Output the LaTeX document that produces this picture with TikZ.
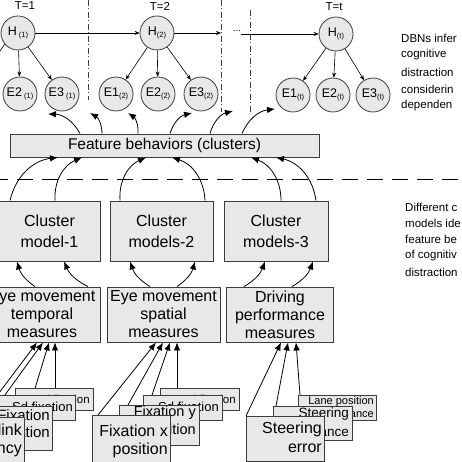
\documentclass[tikz,border=0pt]{standalone}
\usepackage{fontspec}
\setmainfont{Liberation Sans}
\usetikzlibrary{arrows.meta,calc}
\definecolor{boxfill}{RGB}{232,232,232}
\definecolor{boxline}{RGB}{60,60,60}
\newcommand\subx[1]{\raisebox{-2.5pt}{\fontsize{7.5}{8}\selectfont #1}}
\begin{document}
\begin{tikzpicture}[x=1pt,y=-1pt,
  circ/.style={circle,draw=boxline,fill=boxfill,line width=0.8pt,minimum size=34pt,inner sep=0pt,font=\fontsize{12.5}{13}\selectfont},
  bigbox/.style={rectangle,draw=boxline,fill=boxfill,line width=0.9pt,inner sep=0pt,align=center,font=\fontsize{16}{21}\selectfont},
  measbox/.style={bigbox,font=\fontsize{16}{18}\selectfont},
  card/.style={rectangle,draw=boxline,fill=boxfill,line width=0.9pt,inner sep=0pt,anchor=north west},
  cardtext/.style={anchor=east,align=right,inner sep=0pt},
  thinarr/.style={-{Stealth[length=5pt,width=4pt]},line width=0.6pt},
  fat/.style={-{Latex[length=8pt,width=6.5pt]},line width=0.8pt},
  tlabel/.style={font=\fontsize{11.5}{12}\selectfont},
  side/.style={anchor=west,inner sep=0pt,font=\fontsize{11.5}{12}\selectfont},
  vsep/.style={line width=0.7pt,draw=black!75,dash pattern=on 6pt off 2.5pt on 1pt off 2.5pt},
]
\useasboundingbox (0,0) rectangle (462,462);
\clip (0,0) rectangle (462,462);

% ---------- DBN layer ----------
\node[tlabel] (t1) at (25,6) {T=1};
\node[tlabel] (t2) at (160,6) {T=2};
\node[tlabel] (tt) at (334,7) {T=t};

\coordinate (va1) at (88,0);   \coordinate (va2) at (88,100);
\coordinate (vb1) at (221,0);  \coordinate (vb2) at (221,112);
\coordinate (vc1) at (250,10); \coordinate (vc2) at (250,112);
\draw[vsep] (va1) -- (va2);
\draw[vsep] (vb1) -- (vb2);
\draw[vsep] (vc1) -- (vc2);

\node[circ] (h1) at (18,33) {H\,\subx{(1)}};
\node[circ] (h2) at (157,33) {H\subx{(2)}};
\node[circ] (ht) at (336,34) {H\subx{(t)}};
\node[circ] (e21) at (20,94) {E2\,\subx{(1)}};
\node[circ] (e31) at (62,94) {E3\,\subx{(1)}};
\node[circ] (e12) at (116,94) {E1\subx{(2)}};
\node[circ] (e22) at (158,94) {E2\subx{(2)}};
\node[circ] (e32) at (201,94) {E3\subx{(2)}};
\node[circ] (e1t) at (293,95) {E1\subx{(t)}};
\node[circ] (e2t) at (333,95) {E2\subx{(t)}};
\node[circ] (e3t) at (373,95) {E3\subx{(t)}};

\coordinate (hin) at (-2,54);
\draw[line width=0.6pt] (hin) -- (h1.220);
\draw[thinarr] (h1) -- (h2);
\coordinate (bar2) at (221,33);
\draw[thinarr] (h2) -- (bar2);
\node[inner sep=0pt,font=\fontsize{10}{10}\selectfont] (dots) at (237,31) {...};
\draw[thinarr] (dots.east |- ht.west) -- (ht);
\draw[thinarr] (h1) -- (e21);
\draw[thinarr] (h1) -- (e31);
\draw[thinarr] (h2) -- (e12);
\draw[thinarr] (h2) -- (e22);
\draw[thinarr] (h2) -- (e32);
\draw[thinarr] (ht) -- (e1t);
\draw[thinarr] (ht) -- (e2t);
\draw[thinarr] (ht) -- (e3t);

\node[side] (r1) at (401,38) {DBNs infer};
\node[side] (r2) at (401,55) {cognitive};
\node[side] (r3) at (401,72) {distraction};
\node[side] (r4) at (401,89) {considerin};
\node[side] (r5) at (401,106) {dependen};

% ---------- feature behaviours ----------
\node[bigbox,minimum width=309pt,minimum height=23pt,font=\fontsize{15.5}{16}\selectfont] (fb) at (164.5,145.5) {Feature behaviors (clusters)};

\coordinate (p1) at (48,114);
\coordinate (p2) at (90,113);
\coordinate (p3) at (128,113);
\coordinate (p4) at (192,113);
\coordinate (p5) at (233,111);
\coordinate (p6) at (275,109);
\draw[fat] ([xshift=-84.5pt]fb.north) to[bend right=30] (p1);
\draw[fat] ([xshift=-62.5pt]fb.north) to[bend right=30] (p2);
\draw[fat] ([xshift=-26.5pt]fb.north) to[bend right=30] (p3);
\draw[fat] ([xshift=5.5pt]fb.north) to[bend left=30] (p4);
\draw[fat] ([xshift=45.5pt]fb.north) to[bend left=30] (p5);
\draw[fat] ([xshift=77.5pt]fb.north) to[bend left=30] (p6);

\coordinate (hl1) at (0,180); \coordinate (hl2) at (462,180);
\draw[line width=1pt,dash pattern=on 16pt off 9pt,dash phase=8pt] (hl1) -- (hl2);

\node[side] (s1) at (405,207) {Different c};
\node[side] (s2) at (405,223) {models ide};
\node[side] (s3) at (405,239.5) {feature be};
\node[side] (s4) at (405,256) {of cognitiv};
\node[side] (s5) at (405,272) {distraction};

% ---------- cluster models ----------
\node[bigbox,minimum width=101pt,minimum height=60pt] (c1) at (49.5,231) {Cluster\\model-1};
\node[bigbox,minimum width=103pt,minimum height=60pt] (c2) at (161.5,231) {Cluster\\models-2};
\node[bigbox,minimum width=104pt,minimum height=60pt] (c3) at (276,231) {Cluster\\models-3};

\draw[fat] ([xshift=-39.5pt]c1.north) to[bend left=35] ([xshift=-106.5pt]fb.south);
\draw[fat] ([xshift=5.5pt]c1.north) to[bend left=35] ([xshift=-82.5pt]fb.south);
\draw[fat] ([xshift=-41.5pt]c2.north) to[bend left=35] ([xshift=-18.5pt]fb.south);
\draw[fat] ([xshift=43.5pt]c2.north) to[bend right=35] ([xshift=7.5pt]fb.south);
\draw[fat] ([xshift=5pt]c3.north) to[bend right=35] ([xshift=86.5pt]fb.south);
\draw[fat] ([xshift=40pt]c3.north) to[bend right=35] ([xshift=111.5pt]fb.south);

% ---------- measures ----------
\node[measbox,minimum width=116pt,minimum height=55pt] (m1) at (42,314.5) {Eye movement\\temporal\\measures};
\node[measbox,minimum width=113pt,minimum height=55pt] (m2) at (163.5,314.5) {Eye movement\\spatial\\measures};
\node[measbox,minimum width=107pt,minimum height=55pt] (m3) at (280,314.5) {Driving\\performance\\measures};

\draw[fat] ([xshift=-7pt]m1.north) to[bend left=20] ([xshift=-32.5pt]c1.south);
\draw[fat] ([xshift=46pt]m1.north) to[bend left=20] ([xshift=14.5pt]c1.south);
\draw[fat] ([xshift=-13.5pt]m2.north) to[bend left=20] ([xshift=-31.5pt]c2.south);
\draw[fat] ([xshift=13.5pt]m2.north) to[bend right=20] ([xshift=33.5pt]c2.south);
\draw[fat] ([xshift=-36pt]m3.north) to[bend right=20] ([xshift=-11pt]c3.south);
\draw[fat] ([xshift=12pt]m3.north) to[bend right=20] ([xshift=37pt]c3.south);

% ---------- cards: group 1 ----------
\node[card,minimum width=78pt,minimum height=22pt] (g1a) at (15,388) {};
\node[card,minimum width=85pt,minimum height=25pt] (g1b) at (-10,395) {};
\node[card,minimum width=72pt,minimum height=44pt] (g1c) at (-20,406) {};
\node[card,minimum width=54pt,minimum height=50pt] (g1d) at (-30,417) {};
\draw[fat] ($(g1d.north west)+(11,0)$) -- ([xshift=-5pt]m1.south);
\draw[fat] ($(g1c.north west)+(17,0)$) -- ([xshift=1pt]m1.south);
\draw[fat] ($(g1b.north west)+(43,0)$) -- ([xshift=7pt]m1.south);
\draw[fat] ($(g1a.north west)+(40,0)$) -- ([xshift=13pt]m1.south);

% ---------- cards: group 2 ----------
\node[card,minimum width=79pt,minimum height=22pt] (g2a) at (160,388) {};
\node[card,minimum width=79pt,minimum height=25pt] (g2b) at (143,395) {};
\node[card,minimum width=80pt,minimum height=40pt] (g2c) at (119,405) {};
\node[card,minimum width=78pt,minimum height=50pt] (g2d) at (92,415) {};
\draw[fat] ($(g2d.north west)+(6,0)$) -- ([xshift=-7.5pt]m2.south);
\draw[fat] ($(g2c.north west)+(9,0)$) -- ([xshift=-0.5pt]m2.south);
\draw[fat] ($(g2b.north west)+(9,0)$) -- ([xshift=6.5pt]m2.south);
\draw[fat] ($(g2a.north west)+(17,0)$) -- ([xshift=13.5pt]m2.south);

% ---------- cards: group 3 ----------
\node[card,minimum width=78pt,minimum height=25pt] (g3a) at (298,395) {};
\node[card,minimum width=79pt,minimum height=34pt] (g3b) at (273,406) {};
\node[card,minimum width=78pt,minimum height=45pt] (g3c) at (246,416) {};
\draw[fat] (g3c.north west) -- ([xshift=1pt]m3.south);
\draw[fat] ($(g3b.north west)+(3,0)$) -- ([xshift=8pt]m3.south);
\draw[fat] ($(g3a.north west)+(2,0)$) -- ([xshift=16pt]m3.south);

% redraw cards over the lines, back to front, with their texts
\node[card,minimum width=78pt,minimum height=22pt] at (15,388) {};
\node[cardtext,font=\fontsize{11.5}{12}\selectfont] (g1at) at (90,399) {Total fixation};
\node[card,minimum width=85pt,minimum height=25pt] at (-10,395) {};
\node[cardtext,font=\fontsize{13}{14}\selectfont] (g1bt) at (73,407) {Sd fixation};
\node[card,minimum width=72pt,minimum height=44pt] at (-20,406) {};
\node[cardtext,font=\fontsize{15}{17}\selectfont] (g1ct) at (50,423.5) {Fixation\\duration};
\node[card,minimum width=54pt,minimum height=50pt] at (-30,417) {};
\node[cardtext,font=\fontsize{16}{18}\selectfont] (g1dt) at (22,440) {Blink\\frequency};

\node[card,minimum width=79pt,minimum height=22pt] at (160,388) {};
\node[cardtext,font=\fontsize{11.5}{12}\selectfont] (g2at) at (236,399) {Total fixation};
\node[card,minimum width=79pt,minimum height=25pt] at (143,395) {};
\node[cardtext,font=\fontsize{13}{14}\selectfont] (g2bt) at (219,407) {Sd fixation};
\node[card,minimum width=80pt,minimum height=40pt] at (119,405) {};
\node[cardtext,font=\fontsize{14.5}{18}\selectfont] (g2ct) at (196,422) {Fixation y\\position};
\node[card,minimum width=78pt,minimum height=50pt] at (92,415) {};
\node[cardtext,font=\fontsize{16}{18}\selectfont] (g2dt) at (168,441) {Fixation x\\position};

\node[card,minimum width=78pt,minimum height=25pt] at (298,395) {};
\node[cardtext,font=\fontsize{11}{13}\selectfont] (g3at) at (374,407.5) {Lane position\\variance};
\node[card,minimum width=79pt,minimum height=34pt] at (273,406) {};
\node[cardtext,font=\fontsize{13.5}{19}\selectfont] (g3bt) at (349,422.5) {Steering\\variance};
\node[card,minimum width=78pt,minimum height=45pt] at (246,416) {};
\node[cardtext,font=\fontsize{16}{19}\selectfont] (g3ct) at (322,437.5) {Steering\\error};
\end{tikzpicture}
\end{document}
